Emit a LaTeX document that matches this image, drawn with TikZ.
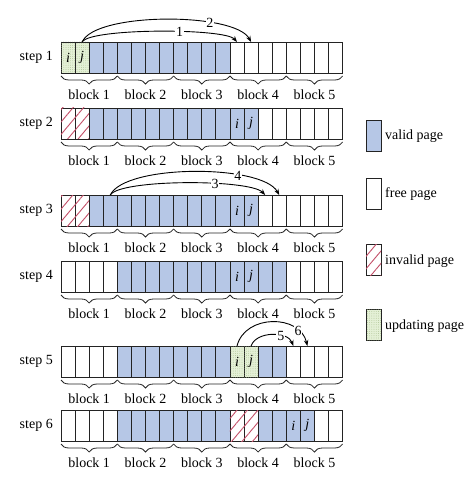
\documentclass[tikz,border=0pt]{standalone}
\usepackage{fontspec}
\setmainfont{Liberation Serif}
\usetikzlibrary{decorations.pathreplacing,patterns.meta,arrows.meta}
\definecolor{validc}{RGB}{182,199,230}
\definecolor{updc}{RGB}{228,240,214}
\definecolor{dotc}{RGB}{150,175,120}
\definecolor{hatchc}{RGB}{196,80,105}
\definecolor{edgec}{RGB}{35,35,35}
\tikzset{
  page/.style={draw=edgec, line width=0.8pt, minimum width=14.08pt, minimum height=31pt,
    inner sep=0pt, outer sep=0pt, anchor=north west},
  valid/.style={fill=validc},
  free/.style={fill=white},
  invalid/.style={fill=white, postaction={pattern={Lines[angle=50,distance=8pt,line width=0.9pt]}, pattern color=hatchc}},
  upd/.style={fill=updc, postaction={pattern={Dots[distance=2.2pt,radius=0.35pt]}, pattern color=dotc}},
  brc/.style={draw=edgec, line width=0.8pt, decorate, decoration={brace,mirror,amplitude=8pt}},
  blk/.style={font=\fontsize{14}{16}\selectfont, inner sep=0pt},
  stp/.style={font=\fontsize{14}{16}\selectfont, inner sep=0pt, anchor=east},
  ij/.style={font=\fontsize{14}{16}\selectfont\itshape, inner sep=0pt},
  arr/.style={draw=black, line width=0.9pt, -{Stealth[length=6pt,width=4.5pt]}},
  num/.style={font=\fontsize{14}{16}\selectfont, fill=white, inner sep=0.8pt},
  leg/.style={font=\fontsize{14}{16}\selectfont, inner sep=0pt, anchor=west},
}
\newcommand\pages[5]{%
  \foreach \k in {#3,...,#4}{\node[page,#5] (p#1-\k) at ({61+\k*14.08},#2) {};}}
\newcommand\blocks[2]{%
  \foreach \b [evaluate=\b as \s using int(4*(\b-1)), evaluate=\b as \e using int(4*\b-1)] in {1,...,5}{%
    \draw[brc] ([yshift=-3pt]p#1-\s.south west) -- ([yshift=-3pt]p#1-\e.south east);
    \node[blk] (b#1-\b) at ({61+(\b-0.5)*56.32},{#2+53}) {block \b};}}
\begin{document}
\begin{tikzpicture}[x=1pt,y=-1pt]
\useasboundingbox (0,0) rectangle (474,481);
% step 1
\pages{1}{42}{0}{1}{upd}
\pages{1}{42}{2}{11}{valid}
\pages{1}{42}{12}{19}{free}
\blocks{1}{42}
\node[stp] (s1) at (53,57.5) {step 1};
\node[ij] (i1) at (p1-0) {i};
\node[ij] (j1) at (p1-1) {j};
\draw[arr] (p1-1.north) .. controls (90,28) and (225,28) .. node[num,pos=0.6] (n1) {1} (p1-12.north);
\draw[arr] (p1-1.north) .. controls (95,12) and (235,12) .. node[num,pos=0.7] (n2) {2} (p1-13.north);
% step 2
\pages{2}{108}{0}{1}{invalid}
\pages{2}{108}{2}{13}{valid}
\pages{2}{108}{14}{19}{free}
\blocks{2}{108}
\node[stp] (s2) at (53,123.5) {step 2};
\node[ij] (i2) at (p2-12) {i};
\node[ij] (j2) at (p2-13) {j};
% step 3
\pages{3}{195}{0}{1}{invalid}
\pages{3}{195}{2}{13}{valid}
\pages{3}{195}{14}{19}{free}
\blocks{3}{195}
\node[stp] (s3) at (53,210.5) {step 3};
\node[ij] (i3) at (p3-12) {i};
\node[ij] (j3) at (p3-13) {j};
\draw[arr] (p3-3.north) .. controls (120,179) and (250,179) .. node[num,pos=0.64] (n3) {3} (p3-14.north);
\draw[arr] (p3-3.north) .. controls (125,164) and (262,164) .. node[num,pos=0.7] (n4) {4} (p3-15.north);
% step 4
\pages{4}{261}{0}{3}{free}
\pages{4}{261}{4}{15}{valid}
\pages{4}{261}{16}{19}{free}
\blocks{4}{261}
\node[stp] (s4) at (53,276.5) {step 4};
\node[ij] (i4) at (p4-12) {i};
\node[ij] (j4) at (p4-13) {j};
% step 5
\pages{5}{346}{0}{3}{free}
\pages{5}{346}{4}{11}{valid}
\pages{5}{346}{12}{13}{upd}
\pages{5}{346}{14}{15}{valid}
\pages{5}{346}{16}{19}{free}
\blocks{5}{346}
\node[stp] (s5) at (53,361.5) {step 5};
\node[ij] (i5) at (p5-12) {i};
\node[ij] (j5) at (p5-13) {j};
\draw[arr] (p5-13.north) .. controls (256,331) and (288,331) .. node[num,pos=0.66] (n5) {5} (p5-16.north);
\draw[arr] (p5-12.north) .. controls (245,314) and (300,314) .. node[num,pos=0.8] (n6) {6} (p5-17.north);
% step 6
\pages{6}{410}{0}{3}{free}
\pages{6}{410}{4}{11}{valid}
\pages{6}{410}{12}{13}{invalid}
\pages{6}{410}{14}{17}{valid}
\pages{6}{410}{18}{19}{free}
\blocks{6}{410}
\node[stp] (s6) at (53,425.5) {step 6};
\node[ij] (i6) at (p6-16) {i};
\node[ij] (j6) at (p6-17) {j};
% legend
\node[page,valid,minimum width=15pt] (lv) at (366,120) {};
\node[leg] (tv) at (385,136) {valid page};
\node[page,free,minimum width=15pt] (lf) at (366,178) {};
\node[leg] (tf) at (385,194) {free page};
\node[page,invalid,minimum width=15pt] (lx) at (366,244) {};
\node[leg] (tx) at (385,261) {invalid page};
\node[page,upd,minimum width=15pt] (lu) at (366,309) {};
\node[leg] (tu) at (385,326) {updating page};
\end{tikzpicture}
\end{document}
